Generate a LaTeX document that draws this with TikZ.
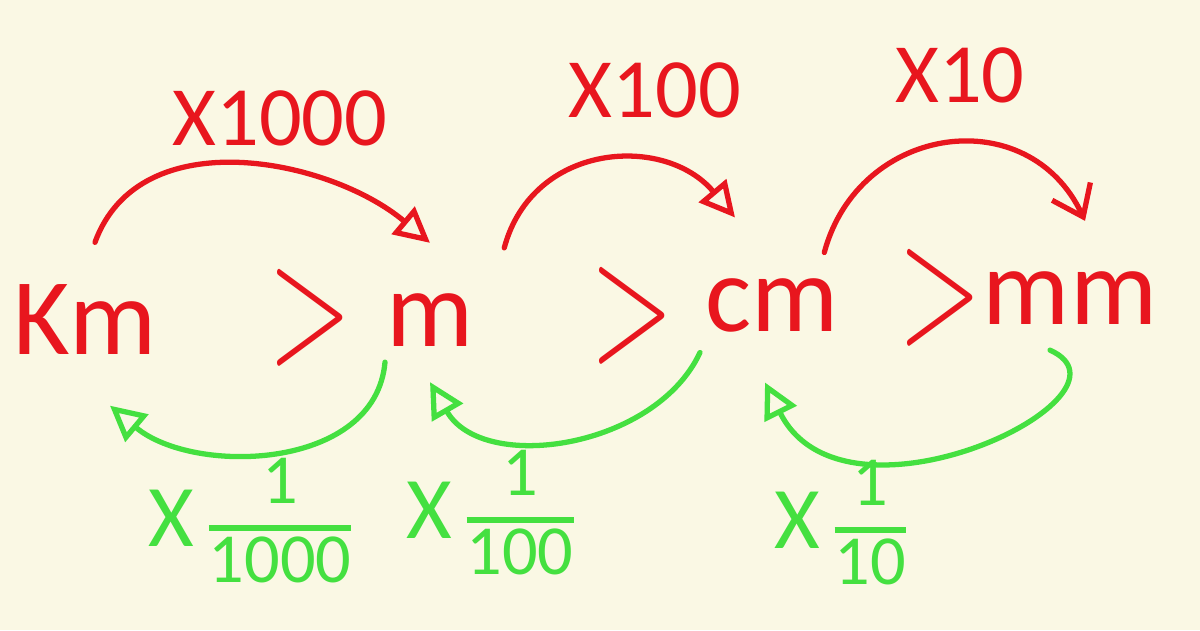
\documentclass[tikz,border=0pt]{standalone}
\usepackage{fontspec}
\setmainfont{Carlito}
\usetikzlibrary{arrows.meta}
\definecolor{paper}{HTML}{FAF8E4}
\definecolor{pen}{HTML}{E8161E}
\definecolor{marker}{HTML}{44E040}
\newcommand\recip[1]{{\fontsize{20}{21}\selectfont\setlength\arrayrulewidth{1.5pt}\begin{tabular}{@{}c@{}}1\\\hline #1\end{tabular}}}
\newcommand\bigger{\scalebox{1.25}[2]{$>$}}
\tikzset{unit/.style={text=pen,inner sep=0pt,font=\fontsize{31}{33}\selectfont},
gt/.style={text=pen,inner sep=0pt,font=\fontsize{30}{32}\selectfont},
mul/.style={text=pen,inner sep=0pt,font=\fontsize{24}{26}\selectfont},
div/.style={text=marker,inner sep=0pt,font=\fontsize{25}{27}\selectfont},
up/.style={draw=pen,line width=1.5pt,line cap=round,-{Triangle[open,length=10pt,width=10pt]}},
down/.style={draw=marker,line width=1.5pt,line cap=round,-{Triangle[open,length=10pt,width=10pt]}}}
\begin{document}
\begin{tikzpicture}[x=0.01cm,y=0.01cm]
\useasboundingbox[fill=paper] (0,0) rectangle (1200,630);
\node[unit] (km) at (85,310){Km};\node[gt] (gta) at (310,312){\bigger};
\node[unit] (m) at (430,310){m};\node[gt] (gtb) at (632,314){\bigger};
\node[unit] (cm) at (772,325){cm};\node[gt] (gtc) at (940,332){\bigger};
\node[unit] (mm) at (1070,332){mm};
\node[mul] (ta) at (280,512){X1000};\node[mul] (tb) at (655,540){X100};\node[mul] (tc) at (960,555){X10};
\node[div] (da) at (250,102){X\,\recip{1000}};\node[div] (db) at (490,110){X\,\recip{100}};\node[div] (dc) at (840,100){X\,\recip{10}};
\draw[up] ([shift={(10,42)}]km.north) to[out=70,in=140] ([shift={(0,50)}]m.north);
\draw[up] ([shift={(30,45)}]m.north east) to[out=75,in=130,looseness=1.2] ([shift={(-37,60)}]cm.north);
\draw[up,-{Straight Barb[length=8pt,width=12pt]}] ([shift={(-15,25)}]cm.north east) to[out=75,in=115,looseness=1.3] ([shift={(15,50)}]mm.north);
\draw[down] ([shift={(-45,-15)}]m.south) to[out=-95,in=-40] ([shift={(25,-50)}]km.south);
\draw[down] ([shift={(-72,-20)}]cm.south) to[out=-115,in=-60] ([shift={(0,-35)}]m.south);
\draw[down] ([shift={(-20,-25)}]mm.south) .. controls +(100,-45) and +(80,-160) .. ([shift={(-7,-50)}]cm.south);
\end{tikzpicture}
\end{document}
